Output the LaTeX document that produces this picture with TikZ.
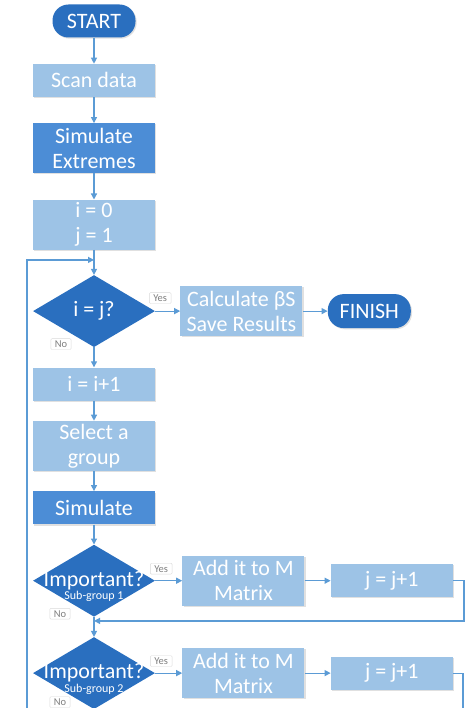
\documentclass[tikz,border=0pt]{standalone}
\usepackage{fontspec}
\setmainfont{Carlito}
\usetikzlibrary{arrows.meta,positioning,shapes.geometric,shadows}
\definecolor{lite}{HTML}{9DC3E6}
\definecolor{mid}{HTML}{4C8DD6}
\definecolor{deep}{HTML}{2A6FBF}
\definecolor{linkblue}{HTML}{5B9BD5}
\definecolor{tagline}{HTML}{D9D9D9}
\definecolor{tagtext}{HTML}{7F7F7F}
\tikzset{
  >={Triangle[length=6pt,width=6pt]},
  every node/.style={font=\fontsize{22}{25}\selectfont,text=white},
  box/.style={fill=lite,minimum width=122pt,minimum height=33pt,align=center,inner sep=2pt,
    drop shadow={fill=black!40,opacity=0.3,shadow xshift=1.2pt,shadow yshift=-1.2pt}},
  tallbox/.style={box,minimum height=50pt},
  dark/.style={fill=mid},
  pill/.style={fill=deep,rounded corners=16pt,minimum width=83pt,minimum height=33pt,inner sep=2pt,
    drop shadow={fill=black!40,opacity=0.3,shadow xshift=1.2pt,shadow yshift=-1.2pt}},
  decide/.style={diamond,fill=deep,aspect=1.7,minimum width=122pt,minimum height=72pt,inner sep=0pt},
  tag/.style={draw=tagline,fill=white,text=tagtext,font=\fontsize{10.5}{12}\selectfont,inner xsep=4pt,inner ysep=2pt,rounded corners=1pt},
  sub/.style={font=\fontsize{12}{13}\selectfont,text=white,inner sep=0pt},
  link/.style={draw=linkblue,line width=1.2pt},
  arrow/.style={link,->},
}

\begin{document}
\begin{tikzpicture}[x=1pt,y=1pt,node distance=26pt and 25pt]
  \useasboundingbox (0,0) rectangle (474,-708);
  % main column
  \node[pill] (start) at (94,-21) {START};
  \node[box,below=of start] (scan) {Scan data};
  \node[tallbox,dark,below=of scan] (simx) {Simulate\\Extremes};
  \node[tallbox,below=of simx] (init) {i = 0\\j = 1};
  \node[decide,below=25pt of init] (d0) {i = j?};
  \node[tallbox,right=25pt of d0] (calc) {Calculate βS\\Save Results};
  \node[pill,right=25pt of calc,minimum height=34pt] (finish) {FINISH};
  \node[box,below=20pt of d0] (inc) {i = i+1};
  \node[tallbox,below=20pt of inc] (sel) {Select a\\group};
  \node[box,dark,below=20pt of sel] (simg) {Simulate};

  % sub-groups
  \node[decide,below=20pt of simg,label={[sub,yshift=-16pt]center:Sub-group 1}] (d1) {\makebox[0pt]{Important?}};
  \node[tallbox,right=27pt of d1] (add1) {Add it to M\\Matrix};
  \node[box,right=26pt of add1] (jj1) {j = j+1};
  \node[decide,below=20pt of d1,label={[sub,yshift=-16pt]center:Sub-group 2}] (d2) {\makebox[0pt]{Important?}};
  \node[tallbox,right=27pt of d2] (add2) {Add it to M\\Matrix};
  \node[box,right=26pt of add2] (jj2) {j = j+1};

  \node[tag] (yes0) at ([xshift=5pt,yshift=13pt]d0.east) {Yes};
  \node[tag] (no0) at ([xshift=-33pt,yshift=-33pt]d0.center) {No};
  \node[tag] (yes1) at ([xshift=6pt,yshift=12pt]d1.east) {Yes};
  \node[tag] (no1) at ([xshift=-34pt,yshift=-33pt]d1.center) {No};
  \node[tag] (yes2) at ([xshift=6pt,yshift=12pt]d2.east) {Yes};
  \node[tag] (no2) at ([xshift=-34pt,yshift=-29pt]d2.center) {No};

  \coordinate[below=10pt of init] (join0);
  \coordinate[below=4pt of d1] (join1);
  \coordinate (loopfoot) at (27,-708);
  \coordinate (tail2) at (463,-708);

  \draw[arrow] (start) -- (scan);
  \draw[arrow] (scan) -- (simx);
  \draw[arrow] (simx) -- (init);
  \draw[arrow] (init) -- (d0);
  \draw[arrow] (loopfoot) |- (join0);
  \draw[arrow] (d0) -- (calc);
  \draw[arrow] (calc) -- (finish);
  \draw[arrow] (d0) -- (inc);
  \draw[arrow] (inc) -- (sel);
  \draw[arrow] (sel) -- (simg);
  \draw[arrow] (simg) -- (d1);
  \draw[arrow] (d1) -- (add1);
  \draw[arrow] (add1) -- (jj1);
  \draw[arrow] (jj1.east) -- ++(11pt,0) |- (join1);
  \draw[arrow] (d1) -- (d2);
  \draw[arrow] (d2) -- (add2);
  \draw[arrow] (add2) -- (jj2);
  \draw[link] (jj2.east) -| (tail2);
\end{tikzpicture}
\end{document}
